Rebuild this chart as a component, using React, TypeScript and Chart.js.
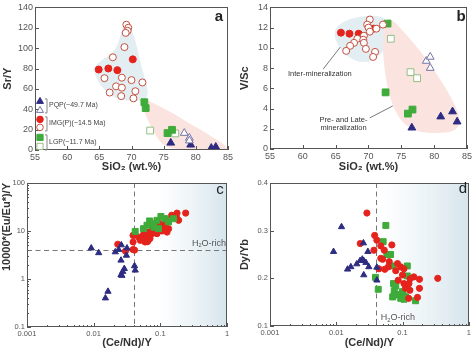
import React, { useEffect, useRef } from 'react';
import { Chart, registerables } from 'chart.js';
Chart.register(...registerables);

type Pt = [number, number];
const FONT = '"Liberation Sans", Arial, sans-serif';

const NAVY = '#2e2c82';
const RED = '#e5231d';
const GREEN = '#3fab3a';
const OPEN_RED = '#c4503f';
const OPEN_GREEN = '#93bf83';
const OPEN_NAVY = '#7473a6';
const BLUE_FIELD = '#e3eef3';
const PINK_FIELD = '#fbe3df';
const FRAME = '#555';

// ---------- Panel a : SiO2 (wt.%) vs Sr/Y ----------
const aXTicks = [55, 60, 65, 70, 75, 80, 85];
const aYTicks = [0, 20, 40, 60, 80, 100, 120, 140];
const aPqpFilled: Pt[] = [[76.1, 7.0], [79.2, 5.1], [82.4, 1.9], [83.1, 2.9]];
const aPqpOpen: Pt[] = [[78.2, 16.6], [79.0, 11.8], [79.0, 9.2]];
const aImgFilled: Pt[] = [[64.9, 79], [66.4, 80], [67.8, 78.4], [70.2, 89]];
const aImgOpen: Pt[] = [[69.2, 123], [69.5, 120], [69.4, 117], [69.1, 115], [68.9, 101], [67.1, 91], [65.8, 70.5], [68.5, 71], [70.0, 68.6], [71.7, 66.3], [67.6, 62.5], [68.5, 61.2], [66.6, 56.4], [70.6, 57.7], [68.4, 52.9], [70.3, 50.7]];
const aLgpFilled: Pt[] = [[72.0, 46.9], [72.2, 41.1], [75.6, 16.6], [76.3, 19.8]];
const aLgpOpen: Pt[] = [[72.9, 19.1], [76.8, 16.3]];
const aBlueField: Pt[] = [[69.1, 127], [70.5, 112], [71.5, 82], [72.8, 56], [71.8, 47], [67.4, 49.5], [65.0, 64], [64.0, 79], [65.0, 87], [67.6, 97], [68.5, 118]];
const aPinkField: Pt[] = [[71.8, 51], [74, 44], [76.8, 35], [79, 26], [81, 19], [83, 11], [84.5, 5], [85, 1], [84, 0.3], [76, 0.3], [74.3, 8], [72.6, 28], [71.7, 42]];
const aLegendLabels = ['PQP(~49.7 Ma)', 'IMG(P)(~14.5 Ma)', 'LGP(~11.7 Ma)'];

// ---------- Panel b : SiO2 (wt.%) vs V/Sc ----------
const bXTicks = [55, 60, 65, 70, 75, 80, 85];
const bYTicks = [0, 2, 4, 6, 8, 10, 12, 14];
const bPqpFilled: Pt[] = [[76.6, 2.1], [81.0, 3.2], [82.8, 3.7], [83.5, 2.7]];
const bPqpOpen: Pt[] = [[78.8, 8.7], [79.4, 9.1], [79.4, 8.0]];
const bImgFilled: Pt[] = [[65.8, 11.5], [67.1, 11.4], [68.5, 11.4], [70.8, 11.9]];
const bImgOpen: Pt[] = [[70.2, 12.8], [69.8, 12.3], [70.0, 12.0], [70.2, 11.6], [71.2, 11.9], [72.2, 12.3], [69.3, 11.2], [68.3, 10.9], [67.8, 10.5], [67.2, 10.2], [66.6, 9.7], [69.2, 10.8], [69.3, 10.5], [69.6, 9.9], [71.0, 9.6], [70.7, 9.1]];
const bLgpFilled: Pt[] = [[72.9, 12.4], [72.6, 5.6], [76.0, 3.5], [76.7, 3.9]];
const bLgpOpen: Pt[] = [[73.4, 10.9], [76.4, 7.6], [77.4, 7.0]];
const bBlueField: Pt[] = [[64.6, 11.6], [66, 12.6], [68.5, 13.1], [71, 13.2], [72.8, 12.9], [73.3, 11.5], [72.5, 9.8], [71, 8.8], [69, 8.5], [67, 9], [65.3, 10.2]];
const bPinkField: Pt[] = [[72.6, 12.8], [73.5, 12.9], [75.5, 11.5], [78, 9.6], [80, 7.8], [82, 5.8], [83.6, 3.8], [84, 2.5], [83, 1.7], [80.5, 1.55], [77.5, 1.65], [75, 2.6], [73.3, 4.8], [72.4, 7.8], [72.1, 10.8]];
const bInterLabel = 'Inter-mineralization';
const bPreLabel = ['Pre- and Late-', 'mineralization'];

// ---------- Panel c : (Ce/Nd)/Y vs 10000*(Eu/Eu*)/Y ----------
const cXTicks = [0.001, 0.01, 0.1, 1];
const cYTicks = [0.1, 1, 10, 100];
const cPqp: Pt[] = [[0.0092, 4.4], [0.0119, 3.5], [0.0211, 3.65], [0.0237, 4.1], [0.026, 5.1], [0.0316, 4.4], [0.031, 3.1], [0.0257, 2.45], [0.0288, 1.64], [0.0273, 1.43], [0.0257, 1.22], [0.0265, 1.18], [0.041, 1.87], [0.042, 1.52], [0.0164, 0.55], [0.015, 0.40]];
const cLgp: Pt[] = [[0.042, 9.8], [0.056, 11.2], [0.063, 13.2], [0.069, 16.2], [0.077, 14.2], [0.089, 16.7], [0.102, 20.1], [0.119, 17.9], [0.08, 12.0], [0.158, 18.0], [0.133, 15.5], [0.094, 11.2]];
const cImg: Pt[] = [[0.023, 5.3], [0.030, 3.8], [0.039, 4.1], [0.041, 4.0], [0.039, 8.1], [0.039, 5.9], [0.047, 7.5], [0.050, 6.4], [0.056, 8.5], [0.053, 7.0], [0.059, 5.9], [0.063, 7.8], [0.066, 6.4], [0.061, 9.5], [0.070, 7.0], [0.075, 8.8], [0.078, 11.2], [0.084, 13.2], [0.089, 10.3], [0.094, 13.2], [0.100, 14.2], [0.109, 12.2], [0.119, 14.2], [0.122, 18.0], [0.089, 8.8], [0.106, 10.0], [0.148, 21.3], [0.178, 23.6], [0.188, 16.7], [0.174, 19.5], [0.240, 23.6], [0.126, 9.5], [0.133, 11.2], [0.057, 6.8], [0.064, 6.0], [0.072, 9.8]];
const cDashX = 0.04;
const cDashY = 4;

// ---------- Panel d : (Ce/Nd)/Y vs Dy/Yb ----------
const dXTicks = [0.001, 0.01, 0.1, 1];
const dYTicks = [0.1, 0.2, 0.3, 0.4];
const dPqp: Pt[] = [[0.012, 0.308], [0.0091, 0.256], [0.0148, 0.219], [0.0166, 0.224], [0.0204, 0.230], [0.0229, 0.237], [0.0247, 0.240], [0.026, 0.237], [0.028, 0.233], [0.0257, 0.274], [0.030, 0.256], [0.031, 0.224], [0.026, 0.207], [0.041, 0.223], [0.041, 0.196]];
const dImg: Pt[] = [[0.029, 0.337], [0.038, 0.29], [0.041, 0.28], [0.023, 0.273], [0.047, 0.268], [0.053, 0.259], [0.069, 0.27], [0.037, 0.259], [0.047, 0.242], [0.050, 0.24], [0.063, 0.235], [0.044, 0.22], [0.054, 0.219], [0.061, 0.224], [0.084, 0.231], [0.094, 0.224], [0.105, 0.22], [0.079, 0.216], [0.10, 0.207], [0.086, 0.196], [0.105, 0.189], [0.118, 0.186], [0.111, 0.179], [0.129, 0.175], [0.148, 0.203], [0.18, 0.198], [0.18, 0.179], [0.168, 0.16], [0.124, 0.158], [0.34, 0.2], [0.125, 0.189], [0.13, 0.199]];
const dLgp: Pt[] = [[0.056, 0.311], [0.051, 0.277], [0.058, 0.25], [0.066, 0.25], [0.07, 0.226], [0.039, 0.202], [0.043, 0.177], [0.073, 0.189], [0.079, 0.184], [0.075, 0.174], [0.071, 0.161], [0.087, 0.166], [0.10, 0.172], [0.105, 0.163], [0.111, 0.161], [0.118, 0.205], [0.118, 0.226], [0.157, 0.153], [0.094, 0.158], [0.105, 0.156], [0.075, 0.165]];
const dDashX = 0.04;

const waterLabel: [string, boolean][] = [['H', false], ['2', true], ['O-rich', false]];

// ---------- helpers ----------
type Style = 'circle' | 'triangle' | 'rect';
function series(data: Pt[], style: Style, fill: string, stroke: string, r: number) {
  return {
    type: 'scatter' as const,
    data: data.map(([x, y]) => ({ x, y })),
    pointStyle: style,
    pointRadius: r,
    pointHoverRadius: r,
    backgroundColor: fill,
    borderColor: stroke,
    borderWidth: 1,
  };
}

function axis(kind: 'x' | 'y', type: 'linear' | 'logarithmic', min: number, max: number, ticks: number[], title: string, size: number, tickSize: number, titleOpts: any = {}) {
  return {
    type,
    min,
    max,
    position: kind === 'x' ? 'bottom' : 'left',
    afterBuildTicks: (s: any) => { s.ticks = ticks.map((v) => ({ value: v })); },
    afterFit: (s: any) => { if (kind === 'x') s.height = size; else s.width = size; },
    grid: { display: false, drawTicks: false, tickLength: 0 },
    border: { display: false },
    ticks: {
      autoSkip: false, maxRotation: 0, minRotation: 0, padding: 2, color: '#555',
      font: { size: tickSize, family: FONT },
      callback: (v: any) => String(v),
    },
    title: {
      display: true, text: title, color: '#333',
      font: { size: 11, weight: 'bold', family: FONT }, padding: 1, ...titleOpts,
    },
  };
}

function smoothPath(ctx: CanvasRenderingContext2D, p: number[][]) {
  const n = p.length;
  const mid = (a: number[], b: number[]) => [(a[0] + b[0]) / 2, (a[1] + b[1]) / 2];
  const start = mid(p[n - 1], p[0]);
  ctx.beginPath();
  ctx.moveTo(start[0], start[1]);
  for (let i = 0; i < n; i++) {
    const m = mid(p[i], p[(i + 1) % n]);
    ctx.quadraticCurveTo(p[i][0], p[i][1], m[0], m[1]);
  }
  ctx.closePath();
}

function marker(ctx: CanvasRenderingContext2D, style: Style, x: number, y: number, r: number, fill: string, stroke: string) {
  ctx.beginPath();
  if (style === 'circle') ctx.arc(x, y, r, 0, Math.PI * 2);
  else if (style === 'triangle') {
    ctx.moveTo(x, y - r); ctx.lineTo(x + r * 0.866, y + r * 0.5); ctx.lineTo(x - r * 0.866, y + r * 0.5); ctx.closePath();
  } else { const s = r * Math.SQRT1_2; ctx.rect(x - s, y - s, 2 * s, 2 * s); }
  ctx.fillStyle = fill; ctx.fill();
  ctx.lineWidth = 1; ctx.strokeStyle = stroke; ctx.stroke();
}

function subText(ctx: CanvasRenderingContext2D, parts: [string, boolean][], x: number, y: number, size: number, align: 'left' | 'right', color: string) {
  ctx.save();
  ctx.fillStyle = color; ctx.textBaseline = 'middle'; ctx.textAlign = 'left';
  const fontFor = (sub: boolean) => `${sub ? size * 0.62 : size}px ${FONT}`;
  let total = 0;
  parts.forEach(([t, sub]) => { ctx.font = fontFor(sub); total += ctx.measureText(t).width; });
  let cx = align === 'left' ? x : x - total;
  parts.forEach(([t, sub]) => {
    ctx.font = fontFor(sub);
    ctx.fillText(t, cx, sub ? y + size * 0.3 : y);
    cx += ctx.measureText(t).width;
  });
  ctx.restore();
}

type Decor = {
  fields?: { pts: Pt[]; color: string }[];
  gradientFrom?: number;
  dashX?: number;
  dashY?: number;
  logX?: boolean;
  logY?: boolean;
  letter: string;
  letterBold: boolean;
  letterDx: number;
  letterDy: number;
  extra?: (chart: any) => void;
};

function decorPlugin(o: Decor) {
  return {
    id: 'decor',
    beforeDatasetsDraw(chart: any) {
      const { ctx, chartArea: ca, scales } = chart;
      const xs = scales.x, ys = scales.y;
      ctx.save();
      ctx.beginPath(); ctx.rect(ca.left, ca.top, ca.right - ca.left, ca.bottom - ca.top); ctx.clip();
      if (o.gradientFrom !== undefined) {
        const x0 = xs.getPixelForValue(o.gradientFrom);
        const g = ctx.createLinearGradient(x0, 0, ca.right, 0);
        g.addColorStop(0, 'rgba(226,237,242,0)');
        g.addColorStop(1, 'rgba(214,228,236,1)');
        ctx.fillStyle = g;
        ctx.fillRect(x0, ca.top, ca.right - x0, ca.bottom - ca.top);
      }
      (o.fields || []).forEach((f) => {
        smoothPath(ctx, f.pts.map(([x, y]) => [xs.getPixelForValue(x), ys.getPixelForValue(y)]));
        ctx.fillStyle = f.color; ctx.fill();
      });
      ctx.strokeStyle = '#777'; ctx.lineWidth = 1; ctx.setLineDash([5, 3.5]);
      if (o.dashX !== undefined) {
        const px = Math.round(xs.getPixelForValue(o.dashX)) + 0.5;
        ctx.beginPath(); ctx.moveTo(px, ca.top); ctx.lineTo(px, ca.bottom); ctx.stroke();
      }
      if (o.dashY !== undefined) {
        const py = Math.round(ys.getPixelForValue(o.dashY)) + 0.5;
        ctx.beginPath(); ctx.moveTo(ca.left, py); ctx.lineTo(ca.right, py); ctx.stroke();
      }
      ctx.restore();
    },
    afterDatasetsDraw(chart: any) {
      const { ctx, chartArea: ca, scales } = chart;
      const xs = scales.x, ys = scales.y;
      ctx.save();
      ctx.strokeStyle = FRAME; ctx.lineWidth = 1;
      ctx.strokeRect(Math.round(ca.left) + 0.5, Math.round(ca.top) + 0.5, Math.round(ca.right - ca.left) - 1, Math.round(ca.bottom - ca.top) - 1);
      ctx.beginPath();
      const tickX = (v: number, len: number) => {
        const px = Math.round(xs.getPixelForValue(v)) + 0.5;
        ctx.moveTo(px, ca.bottom); ctx.lineTo(px, ca.bottom - len);
      };
      const tickY = (v: number, len: number) => {
        const py = Math.round(ys.getPixelForValue(v)) + 0.5;
        ctx.moveTo(ca.left, py); ctx.lineTo(ca.left + len, py);
      };
      const minors = (s: any) => {
        const out: number[] = [];
        for (let e = Math.round(Math.log10(s.min)); e < Math.round(Math.log10(s.max)); e++) {
          for (let k = 2; k <= 9; k++) out.push(k * Math.pow(10, e));
        }
        return out;
      };
      xs.ticks.forEach((t: any) => tickX(t.value, 4));
      ys.ticks.forEach((t: any) => tickY(t.value, 4));
      if (o.logX) minors(xs).forEach((v) => tickX(v, 2));
      if (o.logY) minors(ys).forEach((v) => tickY(v, 2));
      ctx.stroke();
      ctx.fillStyle = '#222';
      ctx.font = `${o.letterBold ? 'bold ' : ''}15px ${FONT}`;
      ctx.textAlign = 'center'; ctx.textBaseline = 'middle';
      ctx.fillText(o.letter, ca.right - o.letterDx, ca.top + o.letterDy);
      ctx.restore();
      if (o.extra) { ctx.save(); o.extra(chart); ctx.restore(); }
    },
  };
}

function baseOptions(pad: any, scales: any) {
  return {
    responsive: false,
    animation: false,
    devicePixelRatio: 1,
    layout: { padding: pad },
    plugins: { legend: { display: false }, tooltip: { enabled: false } },
    events: [],
    scales,
  };
}

// ---------- panel builders ----------
function buildA() {
  const legendExtra = (chart: any) => {
    const { ctx, chartArea: ca } = chart;
    const x = ca.left + 5;
    const rows: [Style, string, string, number][] = [
      ['triangle', NAVY, NAVY, 94], ['triangle', '#fff', OPEN_NAVY, 103],
      ['circle', RED, RED, 112], ['circle', '#fff', OPEN_RED, 120],
      ['rect', GREEN, GREEN, 130], ['rect', '#fff', OPEN_GREEN, 139],
    ];
    rows.forEach(([st, f, s, dy]) => marker(ctx, st, x, ca.top + dy, st === 'rect' ? 4.4 : st === 'triangle' ? 4.0 : 3.3, f, s));
    ctx.strokeStyle = '#888'; ctx.lineWidth = 1;
    [[91, 105], [109, 123], [127, 142]].forEach(([y1, y2], i) => {
      const bx = x + 7;
      ctx.beginPath();
      ctx.moveTo(bx - 2, ca.top + y1 + 0.5); ctx.lineTo(bx, ca.top + y1 + 0.5);
      ctx.lineTo(bx, ca.top + y2 + 0.5); ctx.lineTo(bx - 2, ca.top + y2 + 0.5);
      ctx.stroke();
      ctx.fillStyle = '#444'; ctx.font = `7px ${FONT}`; ctx.textAlign = 'left'; ctx.textBaseline = 'middle';
      ctx.fillText(aLegendLabels[i], bx + 2, ca.top + (y1 + y2) / 2);
    });
  };
  return {
    type: 'scatter',
    data: {
      datasets: [
        series(aImgOpen, 'circle', '#fff', OPEN_RED, 3.5),
        series(aImgFilled, 'circle', RED, RED, 3.5),
        series(aLgpFilled, 'rect', GREEN, GREEN, 4.8),
        series(aLgpOpen, 'rect', '#fff', OPEN_GREEN, 4.8),
        series(aPqpOpen, 'triangle', '#fff', OPEN_NAVY, 4.5),
        series(aPqpFilled, 'triangle', NAVY, NAVY, 4.5),
      ],
    },
    options: baseOptions({ left: 0, right: 9, top: 3, bottom: 0 }, {
      x: axis('x', 'linear', 55, 85, aXTicks, 'SiO\u2082 (wt.%)', 25, 9),
      y: axis('y', 'linear', 0, 140, aYTicks, 'Sr/Y', 35, 9),
    }),
    plugins: [decorPlugin({
      fields: [{ pts: aBlueField, color: BLUE_FIELD }, { pts: aPinkField, color: PINK_FIELD }],
      letter: 'a', letterBold: true, letterDx: 9, letterDy: 9, extra: legendExtra,
    })],
  };
}

function buildB() {
  const extra = (chart: any) => {
    const { ctx, scales } = chart;
    const X = (v: number) => scales.x.getPixelForValue(v);
    const Y = (v: number) => scales.y.getPixelForValue(v);
    ctx.strokeStyle = '#555'; ctx.lineWidth = 0.8;
    ctx.beginPath(); ctx.moveTo(X(65.7), Y(10.07)); ctx.lineTo(X(63.1), Y(7.9)); ctx.stroke();
    ctx.beginPath(); ctx.moveTo(X(70.2), Y(3.08)); ctx.lineTo(X(73.7), Y(4.26)); ctx.stroke();
    ctx.fillStyle = '#333'; ctx.font = `7.5px ${FONT}`; ctx.textAlign = 'center'; ctx.textBaseline = 'middle';
    ctx.fillText(bInterLabel, X(62.6), Y(7.46));
    ctx.fillText(bPreLabel[0], X(66.2), Y(2.92));
    ctx.fillText(bPreLabel[1], X(66.2), Y(2.12));
  };
  return {
    type: 'scatter',
    data: {
      datasets: [
        series(bImgOpen, 'circle', '#fff', OPEN_RED, 3.5),
        series(bImgFilled, 'circle', RED, RED, 3.5),
        series(bLgpFilled, 'rect', GREEN, GREEN, 4.8),
        series(bLgpOpen, 'rect', '#fff', OPEN_GREEN, 4.8),
        series(bPqpOpen, 'triangle', '#fff', OPEN_NAVY, 4.5),
        series(bPqpFilled, 'triangle', NAVY, NAVY, 4.5),
      ],
    },
    options: baseOptions({ left: 0, right: 7, top: 2, bottom: 0 }, {
      x: axis('x', 'linear', 55, 85, bXTicks, 'SiO\u2082 (wt.%)', 26, 9),
      y: axis('y', 'linear', 0, 14, bYTicks, 'V/Sc', 33, 9),
    }),
    plugins: [decorPlugin({
      fields: [{ pts: bBlueField, color: BLUE_FIELD }, { pts: bPinkField, color: PINK_FIELD }],
      letter: 'b', letterBold: true, letterDx: 6, letterDy: 9, extra,
    })],
  };
}

function buildC() {
  const extra = (chart: any) => {
    const { ctx, chartArea: ca, scales } = chart;
    subText(ctx, waterLabel, ca.right - 1, scales.y.getPixelForValue(5.6), 9, 'right', '#555');
  };
  return {
    type: 'scatter',
    data: {
      datasets: [
        series(cPqp, 'triangle', NAVY, NAVY, 3.6),
        series(cLgp, 'rect', GREEN, GREEN, 4.2),
        series(cImg, 'circle', RED, RED, 3.1),
      ],
    },
    options: baseOptions({ left: 0, right: 10, top: 8, bottom: 0 }, {
      x: axis('x', 'logarithmic', 0.001, 1, cXTicks, '(Ce/Nd)/Y', 24, 7.5),
      y: axis('y', 'logarithmic', 0.1, 100, cYTicks, '10000*(Eu/Eu*)/Y', 27, 7.5, { align: 'end', padding: 0 }),
    }),
    plugins: [decorPlugin({
      gradientFrom: 0.09, dashX: cDashX, dashY: cDashY, logX: true, logY: true,
      letter: 'c', letterBold: false, letterDx: 7, letterDy: 7, extra,
    })],
  };
}

function buildD() {
  const extra = (chart: any) => {
    const { ctx, scales } = chart;
    subText(ctx, waterLabel, scales.x.getPixelForValue(0.047), scales.y.getPixelForValue(0.117), 9, 'left', '#555');
  };
  return {
    type: 'scatter',
    data: {
      datasets: [
        series(dPqp, 'triangle', NAVY, NAVY, 3.6),
        series(dImg, 'circle', RED, RED, 3.1),
        series(dLgp, 'rect', GREEN, GREEN, 4.2),
      ],
    },
    options: baseOptions({ left: 0, right: 5, top: 8, bottom: 0 }, {
      x: axis('x', 'logarithmic', 0.001, 1, dXTicks, '(Ce/Nd)/Y', 25, 7.5),
      y: axis('y', 'linear', 0.1, 0.4, dYTicks, 'Dy/Yb', 33, 7.5),
    }),
    plugins: [decorPlugin({
      gradientFrom: 0.045, dashX: dDashX, logX: true,
      letter: 'd', letterBold: false, letterDx: 6, letterDy: 6, extra,
    })],
  };
}

function Panel({ left, top, width, height, build }: { left: number; top: number; width: number; height: number; build: () => any }) {
  const ref = useRef<HTMLCanvasElement>(null);
  useEffect(() => {
    const chart = new Chart(ref.current as HTMLCanvasElement, build());
    return () => chart.destroy();
  }, []);
  return <canvas ref={ref} width={width} height={height} style={{ position: 'absolute', left, top, width, height }} />;
}

export default function App() {
  return (
    <div style={{ position: 'absolute', left: 0, top: 0, width: 474, height: 351, background: '#fff', overflow: 'hidden' }}>
      <Panel left={0} top={0} width={237} height={175} build={buildA} />
      <Panel left={237} top={0} width={237} height={175} build={buildB} />
      <Panel left={0} top={175} width={237} height={176} build={buildC} />
      <Panel left={237} top={175} width={237} height={176} build={buildD} />
    </div>
  );
}
